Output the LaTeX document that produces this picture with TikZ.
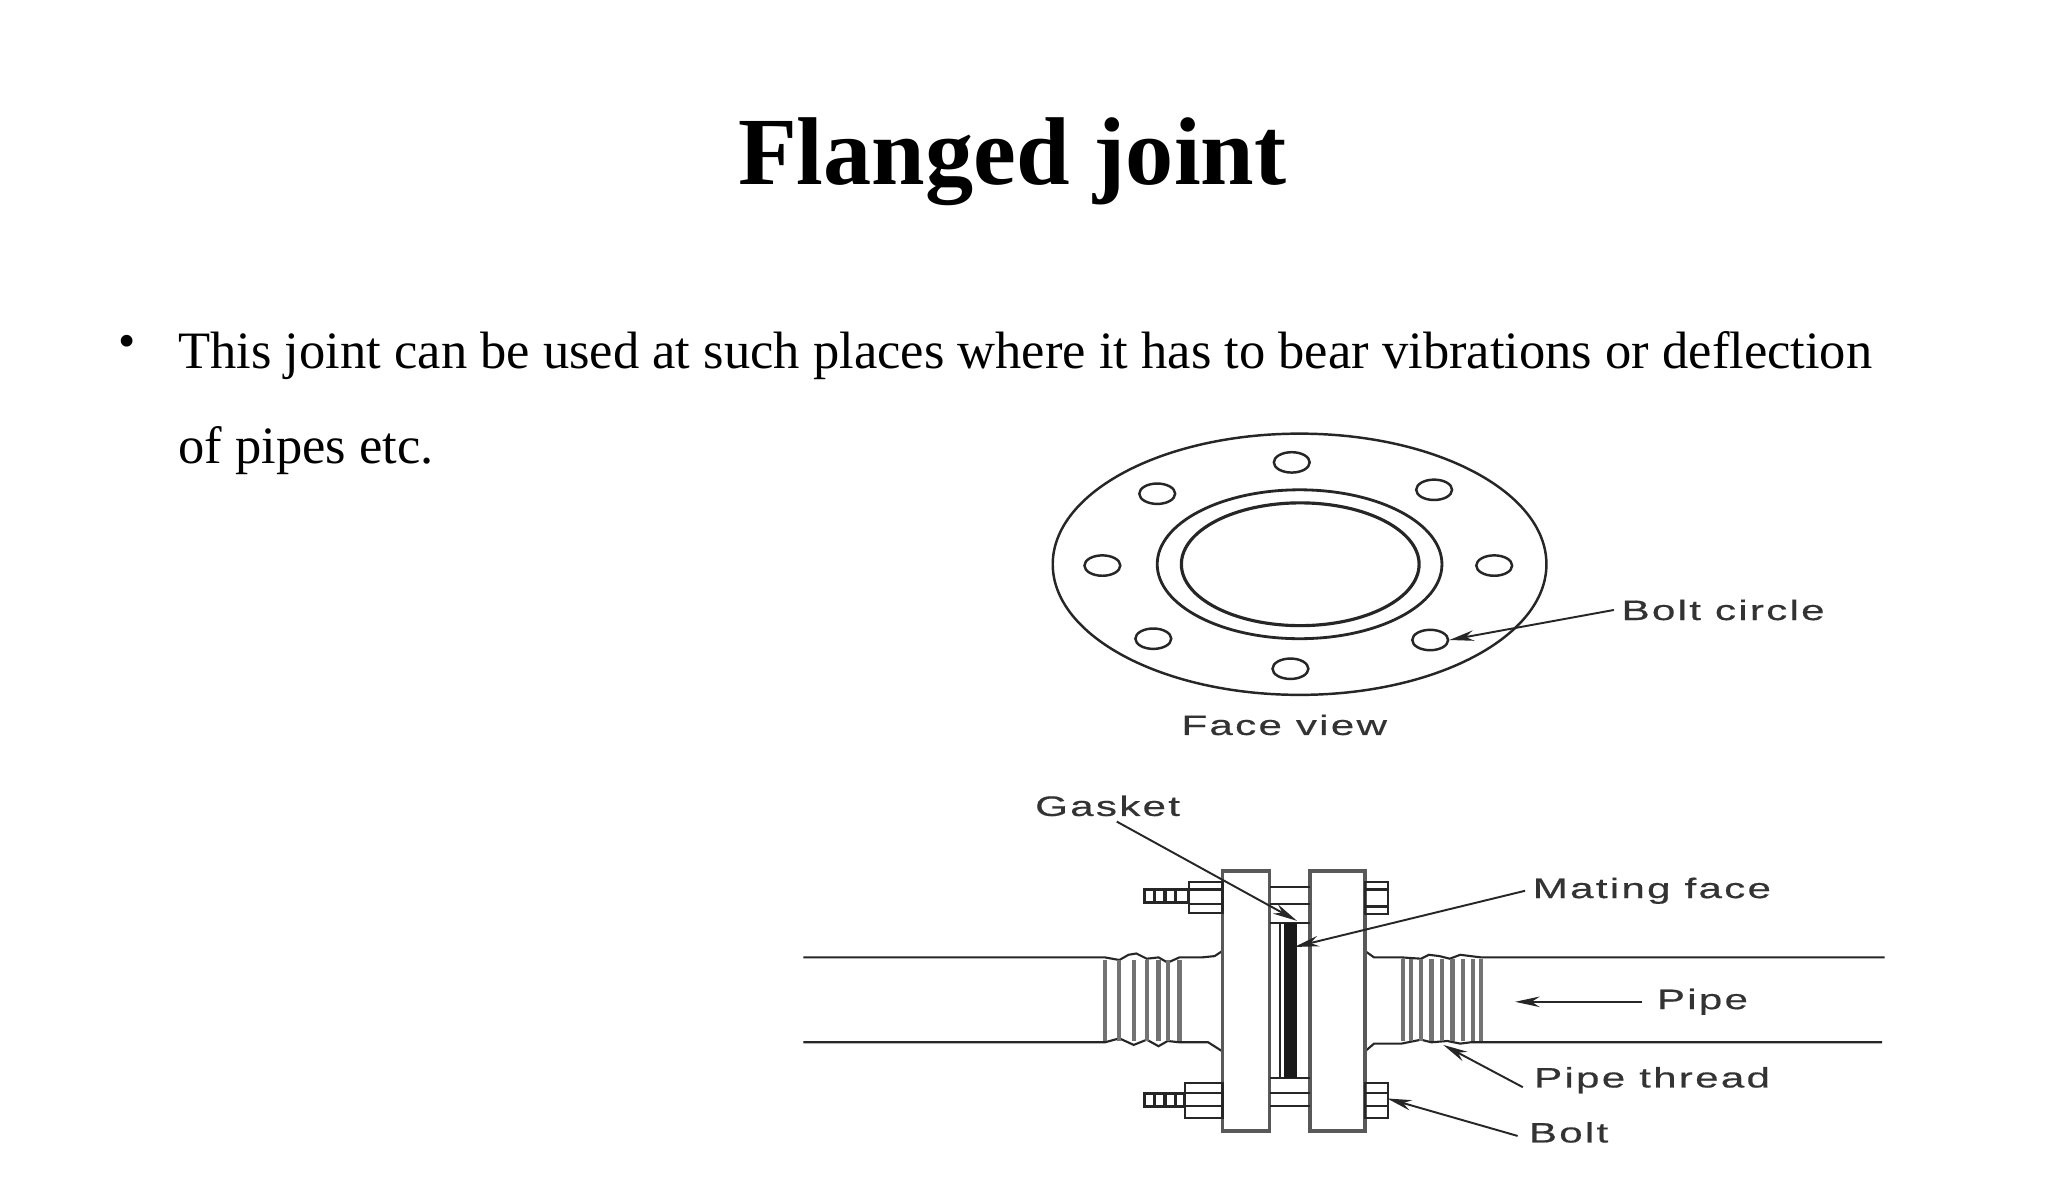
\documentclass[tikz,border=0pt]{standalone}
\usepackage{fontspec}
\setmainfont{Liberation Serif}
\newfontfamily\partfont[FakeStretch=1.5,LetterSpace=8,FakeBold=0.5]{Liberation Sans}
\usetikzlibrary{arrows.meta,shapes.geometric}
\begin{document}
\begin{tikzpicture}[x=0.013061cm,y=-0.013061cm]
  \tikzstyle{every node}=[inner sep=0pt]
  \tikzstyle{part}=[font=\partfont\fontsize{8}{9}\selectfont,text=black!80,anchor=west]
  \tikzstyle{hole}=[ellipse,draw=black!85,line width=0.7pt,minimum width=10.2pt,minimum height=5.8pt]
  \tikzstyle{line}=[draw=black!85,line width=0.6pt]
  \tikzstyle{band}=[draw=black!55,line width=1.2pt]
  \tikzstyle{leader}=[draw=black!85,line width=0.55pt,-{Stealth[length=7pt,width=3pt]}]
  \useasboundingbox[fill=white] (0,0) rectangle (1568,905);
  \node (title) at (775,124) {\fontsize{27.4}{32}\selectfont\bfseries Flanged joint};
  \node (bullet) at (97,265) {\fontsize{14}{16}\selectfont\textbullet};
  \node[anchor=west] (line1) at (136,272) {\fontsize{14.95}{16}\selectfont This joint can be used at such places where it has to bear vibrations or deflection};
  \node[anchor=west] (line2) at (136,345) {\fontsize{14.95}{16}\selectfont of pipes etc.};
  % face view
  \draw[line,line width=0.7pt] (995,432) ellipse [x radius=189,y radius=100];
  \draw[line,line width=0.8pt] (995,432) ellipse [x radius=109,y radius=57];
  \draw[line,line width=0.9pt] (995.5,432) ellipse [x radius=91,y radius=47];
  \foreach \name/\x/\y in {a/989/354,b/1098/375,c/1144/433,d/1095/490,e/988/512,f/883/489,g/844/433,h/886/378}
    \node[hole] (hole\name) at (\x,\y) {};
  \node[part] (circlelabel) at (1241,467) {Bolt circle};
  \node[part] (facelabel) at (904,555) {Face view};
  \draw[leader] ([xshift=-2pt]circlelabel.west) -- (holed.east);
  % pipes and threads
  \draw[line] (615,733) -- (846,733) -- (857,735) -- (864,731) -- (870,730) -- (878,734) -- (887,733) -- (894,737) -- (903,733) -- (920,733) -- (930,732) -- (936,728);
  \draw[line] (615,798) -- (846,798) -- (857,795) -- (868,800) -- (878,796) -- (887,801) -- (894,797) -- (903,798) -- (925,798) -- (936,805);
  \draw[line] (1045,728) -- (1052,733) -- (1073,733) -- (1088,734) -- (1094,731) -- (1102,732) -- (1110,734) -- (1118,731) -- (1126,732) -- (1134,733) -- (1443,733);
  \draw[line] (1045,805) -- (1052,799) -- (1073,799) -- (1088,796) -- (1096,798) -- (1108,797) -- (1118,799) -- (1126,798) -- (1134,798) -- (1441,798);
  \foreach \x in {846,857,868,878,887,894,903}
    \draw[band] (\x,735) -- (\x,797);
  \foreach \x in {1074,1080,1088,1096,1104,1112,1120,1128,1134}
    \draw[band] (\x,734) -- (\x,797);
  % flanges and gasket
  \draw[line,draw=black!65,line width=1pt,fill=white] (936,667) rectangle (972,866);
  \draw[line,draw=black!65,line width=1pt,fill=white] (1003,667) rectangle (1045,866);
  \draw[line] (972,707) -- (1003,707) (972,825) -- (1003,825);
  \draw[line] (980,707) -- (980,825);
  \fill[black!90] (983,707) rectangle (993,825);
  % bolts
  \draw[line] (910,675) rectangle (936,699) (910,681) -- (936,681) (910,692) -- (936,692);
  \draw[line,line width=0.9pt] (876,681) rectangle (910,691) (884,681) -- (884,691) (892,681) -- (892,691) (900,681) -- (900,691);
  \draw[line] (907,829) rectangle (936,856) (907,837) -- (936,837) (907,847) -- (936,847);
  \draw[line,line width=0.9pt] (876,837) rectangle (907,847) (884,837) -- (884,847) (892,837) -- (892,847) (900,837) -- (900,847);
  \draw[line] (972,679) -- (1003,679) (972,692) -- (1003,692);
  \draw[line] (972,837) -- (1003,837) (972,847) -- (1003,847);
  \draw[line] (1045,675) rectangle (1063,700) (1045,681) -- (1063,681) (1045,694) -- (1063,694);
  \draw[line] (1045,829) rectangle (1063,856) (1045,837) -- (1063,837) (1045,847) -- (1063,847);
  % labels
  \node[part] (gasketlabel) at (792,617) {Gasket};
  \node[part] (matinglabel) at (1173,682) {Mating face};
  \node[part] (pipelabel) at (1268,767) {Pipe};
  \node[part] (threadlabel) at (1174,827) {Pipe thread};
  \node[part] (boltlabel) at (1170,867) {Bolt};
  \coordinate (gasketstart) at (855,629);
  \coordinate (gasketend) at (993,705);
  \coordinate (matingend) at (991,725);
  \coordinate (pipeend) at (1160,767);
  \coordinate (threadend) at (1105,800);
  \coordinate (boltend) at (1062,841);
  \draw[leader] (gasketstart) -- (gasketend);
  \draw[leader] ([xshift=-2pt]matinglabel.west) -- (matingend);
  \draw[leader] ([xshift=-4pt]pipelabel.west) -- (pipeend);
  \draw[leader] ([xshift=-3pt,yshift=-2pt]threadlabel.west) -- (threadend);
  \draw[leader] ([xshift=-3pt,yshift=-1pt]boltlabel.west) -- (boltend);
\end{tikzpicture}
\end{document}
